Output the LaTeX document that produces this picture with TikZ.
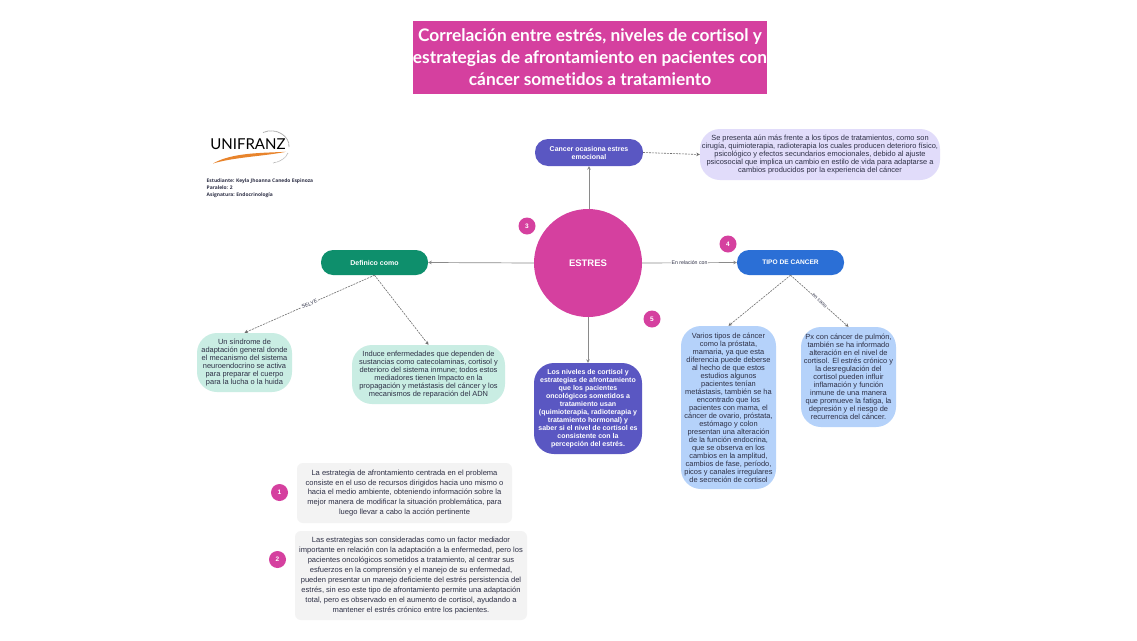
\documentclass[tikz,border=0pt]{standalone}
\usepackage{fontspec}
\setmainfont{Liberation Sans}
\newfontfamily\titlefont[Ligatures=NoCommon]{Lato}
\newfontfamily\studentfont{Open Sans}
\newfontfamily\logofont{Lato}
\usetikzlibrary{arrows.meta}
\definecolor{pinkc}{HTML}{D5409F}
\definecolor{indigoc}{HTML}{5A57C2}
\definecolor{lavc}{HTML}{E1DCFA}
\definecolor{greenc}{HTML}{0E8F6C}
\definecolor{mintc}{HTML}{C9EDE3}
\definecolor{bluec}{HTML}{2B6FD6}
\definecolor{skyc}{HTML}{B5D2FA}
\definecolor{grayc}{HTML}{F3F3F3}
\definecolor{inkc}{HTML}{2D2F45}
\definecolor{linec}{HTML}{8A8A8A}
\definecolor{orangec}{HTML}{E8842C}
\tikzset{
  x=1pt,y=-1pt,
  box/.style={rectangle,inner sep=0pt,align=center,text=inkc,font=\fontsize{7.45}{8}\selectfont},
  notebox/.style={box,fill=grayc,rounded corners=6pt,font=\fontsize{7.55}{9.9}\selectfont},
  darkbox/.style={box,text=white,font=\fontsize{7}{8}\selectfont\bfseries},
  badge/.style={circle,fill=pinkc,minimum size=17pt,inner sep=0pt,text=white,font=\fontsize{6.5}{8}\selectfont\bfseries},
  solidedge/.style={draw=linec,line width=0.7pt,-{Stealth[length=3.5pt,width=3.5pt]}},
  dashedge/.style={draw=linec!80!black,line width=0.6pt,dash pattern=on 2pt off 1pt,-{Stealth[length=3.5pt,width=3.5pt]}},
  edgelabel/.style={fill=white,inner sep=1pt,text=inkc,font=\fontsize{5.2}{6}\selectfont},
}
\begin{document}
\begin{tikzpicture}
\useasboundingbox[fill=white] (0,0) rectangle (1137,640);

% title
\node[rectangle,fill=pinkc,minimum width=352pt,minimum height=73pt,inner sep=0pt,align=center,text=white,
      font=\titlefont\fontsize{17.3}{22}\selectfont\bfseries] (title) at (590,57.5)
  {Correlación entre estrés, niveles de cortisol y\\estrategias de afrontamiento en pacientes con\\cáncer sometidos a tratamiento};

% logo
\node[inner sep=0pt,text=black,font=\logofont\fontsize{15}{18}\selectfont] (logo) at (248,144) {UNIFRANZ};
\fill[orangec] (213,163.5) .. controls (232,152.5) and (262,153) .. (286,151.8) .. controls (262,156.5) and (235,157) .. (213,163.5) -- cycle;
\draw[linec!70,line width=0.8pt,dash pattern=on 1.5pt off 0.4pt] (263,132.5) .. controls (276,127) and (290,136) .. (289,147);
\draw[linec!70,line width=0.6pt,dash pattern=on 1pt off 0.5pt] (288,153) .. controls (286,158) and (280,162) .. (273,163);
\node[inner sep=0pt,anchor=north west,align=left,text=inkc,font=\studentfont\fontsize{4.9}{6.6}\selectfont\bfseries] (student) at (206.5,179)
  {Estudiante: Keyla Jhoanna Canedo Espinoza\\Paralelo: 2\\Asignatura: Endocrinología};

% hub
\node[circle,fill=pinkc,minimum size=108pt,inner sep=0pt,text=white,font=\fontsize{9.5}{13}\selectfont\bfseries] (estres) at (588,263) {ESTRES};

% coloured nodes
\node[darkbox,fill=indigoc,rounded corners=13pt,minimum width=108pt,minimum height=27pt] (cancer) at (589,152.5) {Cancer ocasiona estres\\emocional};
\node[box,fill=lavc,rounded corners=20pt,minimum width=240pt,minimum height=51pt] (lav) at (820,154.5)
 {Se presenta aún más frente a los tipos de tratamientos, como son\\cirugía, quimioterapia, radioterapia los cuales producen deterioro físico,\\psicológico y efectos secundarios emocionales, debido al ajuste\\psicosocial que implica un cambio en estilo de vida para adaptarse a\\cambios producidos por la experiencia del cáncer};
\node[darkbox,fill=greenc,rounded corners=12pt,minimum width=107pt,minimum height=25pt] (def) at (374.5,262.5) {Definico como};
\node[darkbox,fill=bluec,rounded corners=12pt,minimum width=107pt,minimum height=25pt,font=\fontsize{6.6}{8}\selectfont\bfseries] (tipo) at (790.5,262.5) {TIPO DE CANCER};

\node[box,fill=mintc,rounded corners=20pt,minimum width=95pt,minimum height=59pt] (un) at (244.5,362.5)
 {Un síndrome de\\adaptación general donde\\el mecanismo del sistema\\neuroendocrino se activa\\para preparar el cuerpo\\para la lucha o la huida};
\node[box,fill=mintc,rounded corners=20pt,minimum width=153pt,minimum height=59pt] (induce) at (428.5,374.5)
 {Induce enfermedades que dependen de\\sustancias como catecolaminas, cortisol y\\deterioro del sistema inmune; todos estos\\mediadores tienen Impacto en la\\propagación y metástasis del cáncer y los\\mecanismos de reparación del ADN};
\node[darkbox,fill=indigoc,rounded corners=20pt,minimum width=108pt,minimum height=91pt] (niveles) at (588,408.5)
 {Los niveles de cortisol y\\estrategias de afrontamiento\\que los pacientes\\oncológicos sometidos a\\tratamiento usan\\(quimioterapia, radioterapia y\\tratamiento hormonal) y\\saber si el nivel de cortisol es\\consistente con la\\percepción del estrés.};
\node[box,fill=skyc,rounded corners=20pt,minimum width=95pt,minimum height=163pt] (varios) at (728.5,407.5)
 {Varios tipos de cáncer\\como la próstata,\\mamaria, ya que esta\\diferencia puede deberse\\al hecho de que estos\\estudios algunos\\pacientes tenían\\metástasis, también se ha\\encontrado que los\\pacientes con mama, el\\cáncer de ovario, próstata,\\estómago y colon\\presentan una alteración\\de la función endocrina,\\que se observa en los\\cambios en la amplitud,\\cambios de fase, período,\\picos y canales irregulares\\de secreción de cortisol};
\node[box,fill=skyc,rounded corners=20pt,minimum width=95pt,minimum height=100pt] (px) at (848.5,377)
 {Px con cáncer de pulmón,\\también se ha informado\\alteración en el nivel de\\cortisol. El estrés crónico y\\la desregulación del\\cortisol pueden influir\\inflamación y función\\inmune de una manera\\que promueve la fatiga, la\\depresión y el riesgo de\\recurrencia del cáncer.};

% gray notes
\node[notebox,minimum width=215pt,minimum height=60pt] (g1) at (404.5,493)
 {La estrategia de afrontamiento centrada en el problema\\consiste en el uso de recursos dirigidos hacia uno mismo o\\hacia el medio ambiente, obteniendo información sobre la\\mejor manera de modificar la situación problemática, para\\luego llevar a cabo la acción pertinente};
\node[notebox,minimum width=232pt,minimum height=89pt] (g2) at (411,575.5)
 {Las estrategias son consideradas como un factor mediador\\importante en relación con la adaptación a la enfermedad, pero los\\pacientes oncológicos sometidos a tratamiento, al centrar sus\\esfuerzos en la comprensión y el manejo de su enfermedad,\\pueden presentar un manejo deficiente del estrés persistencia del\\estrés, sin eso este tipo de afrontamiento permite una adaptación\\total, pero es observado en el aumento de cortisol, ayudando a\\mantener el estrés crónico entre los pacientes.};

% badges
\node[badge] (b3) at (527,226) {3};
\node[badge] (b4) at (728,244) {4};
\node[badge] (b5) at (652,319) {5};
\node[badge] (b1) at (279.5,492.5) {1};
\node[badge] (b2) at (277.5,559.5) {2};

% connectors
\draw[solidedge] (estres.north -| cancer.south) -- (cancer.south);
\draw[solidedge] (estres.west) -- (def.east);
\draw[solidedge] (estres.south) -- (niveles.north);
\draw[solidedge] (estres.east) -- node[edgelabel,pos=0.5] {En relación con} (tipo.west);
\draw[dashedge] (cancer.east) -- (lav.west);
\draw[dashedge] (def.south) -- node[edgelabel,sloped,pos=0.5] {SELYE} (un.north);
\draw[dashedge] (def.south) -- (induce.north);
\draw[dashedge] (tipo.south) -- (varios.north);
\draw[dashedge] (tipo.south) -- node[edgelabel,sloped,pos=0.5] {en caso} (px.north);
\end{tikzpicture}
\end{document}
